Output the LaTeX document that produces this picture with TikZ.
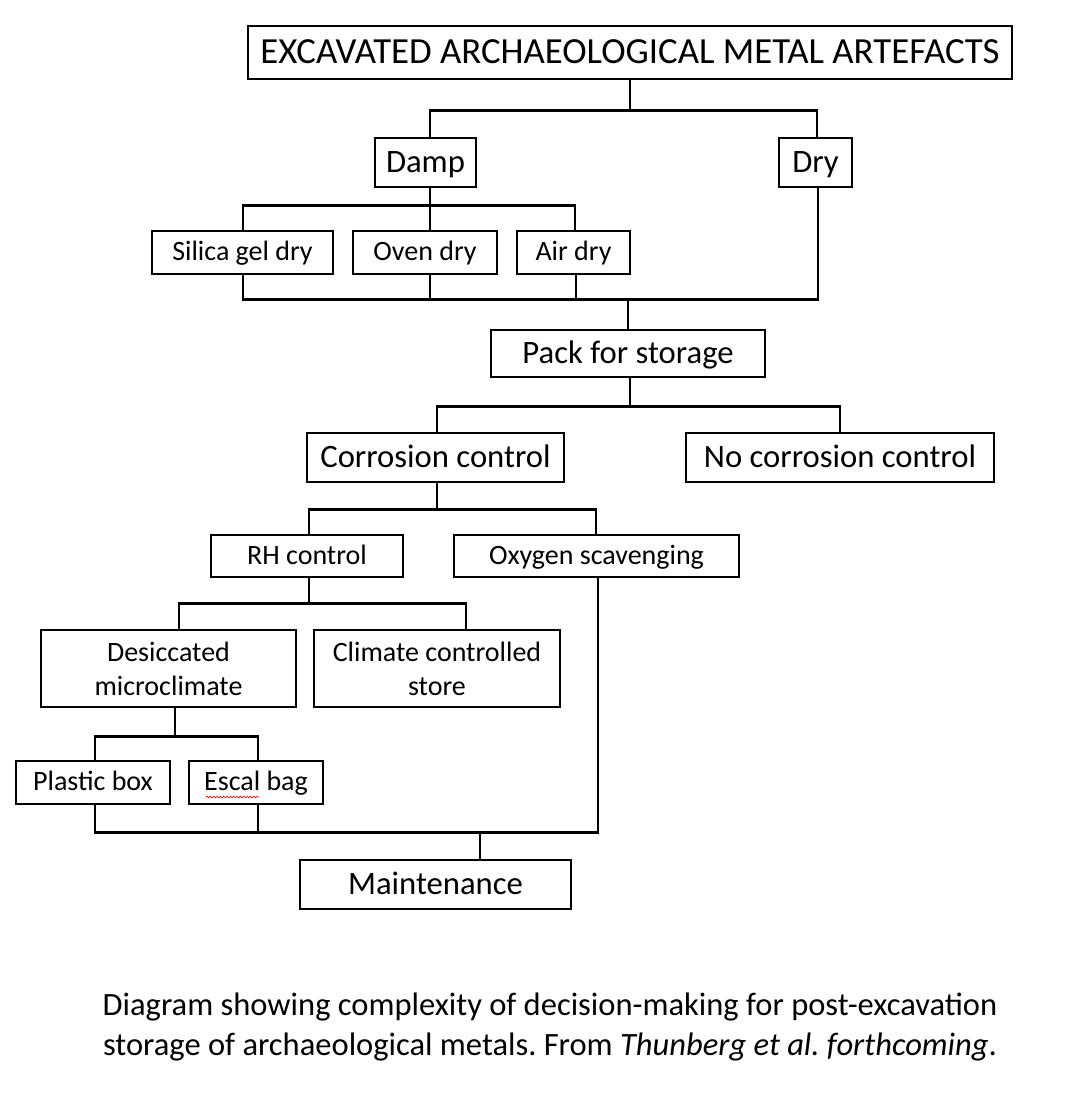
\documentclass[tikz,border=0pt]{standalone}
\usepackage{fontspec}
\setmainfont{Carlito}
\usetikzlibrary{calc,decorations.pathmorphing}
\frenchspacing

\begin{document}
\begin{tikzpicture}[x=0.75pt, y=-0.75pt,
    box/.style={draw, line width=0.8pt, inner sep=0pt},
    bigbox/.style={box, font=\fontsize{24.5}{29}\selectfont, text height=19.6pt, text depth=4.9pt},
    smallbox/.style={box, font=\fontsize{21}{25.5}\selectfont, text height=16.8pt, text depth=4.2pt},
    twoline/.style={box, align=center, font=\fontsize{21}{25.5}\selectfont},
    link/.style={line width=2.2pt}]
    \useasboundingbox (0,0) rectangle (1080,1095);

    % Boxes
    \node[box, font=\fontsize{27.6}{33}\selectfont, text height=22.1pt, text depth=5.5pt, minimum width=764*0.75pt, minimum height=53*0.75pt] (title) at (630,52.5) {EXCAVATED ARCHAEOLOGICAL METAL ARTEFACTS};
    \node[bigbox, minimum width=101*0.75pt, minimum height=49*0.75pt] (damp) at (425.5,162.5) {Damp};
    \node[bigbox, minimum width=73*0.75pt, minimum height=49*0.75pt] (dry) at (815.5,162.5) {Dry};
    \node[smallbox, minimum width=181*0.75pt, minimum height=43*0.75pt] (silica) at (242.5,252.5) {Silica gel dry};
    \node[smallbox, minimum width=144*0.75pt, minimum height=43*0.75pt] (oven) at (425,252.5) {Oven dry};
    \node[smallbox, minimum width=113*0.75pt, minimum height=43*0.75pt] (air) at (573.5,252.5) {Air dry};
    \node[bigbox, minimum width=274*0.75pt, minimum height=47*0.75pt] (pack) at (628,353.5) {Pack for storage};
    \node[bigbox, minimum width=257*0.75pt, minimum height=49*0.75pt] (corr) at (435.5,457.5) {Corrosion control};
    \node[bigbox, minimum width=308*0.75pt, minimum height=49*0.75pt] (nocorr) at (840,457.5) {No corrosion control};
    \node[smallbox, minimum width=192*0.75pt, minimum height=42*0.75pt] (rh) at (307,556) {RH control};
    \node[smallbox, minimum width=285*0.75pt, minimum height=42*0.75pt] (oxy) at (596.5,556) {Oxygen scavenging};
    \node[twoline, minimum width=255*0.75pt, minimum height=77*0.75pt] (desic) at (168.5,668.5) {Desiccated\\microclimate};
    \node[twoline, minimum width=246*0.75pt, minimum height=77*0.75pt] (climate) at (437,668.5) {Climate controlled\\store};
    \node[smallbox, minimum width=154*0.75pt, minimum height=43*0.75pt] (plastic) at (93,782.5) {Plastic box};
    \node[smallbox, minimum width=134*0.75pt, minimum height=43*0.75pt] (escal) at (256,782.5) {Escal bag};
    \node[bigbox, minimum width=271*0.75pt, minimum height=49*0.75pt] (maint) at (435.5,884.5) {Maintenance};

    % Spell-check mark under Escal
    \draw[red, line width=0.5pt, decorate, decoration={snake, amplitude=0.6pt, segment length=2.5pt}] (206,797) -- (259,797);

    % Connectors
    \draw[link] (title.south) -- ++(0,31) coordinate (t1);
    \draw[link] ($(damp.north)+(4.5,0)$) |- (t1) -| ($(dry.north)+(1.5,0)$);

    \draw[link] ($(damp.south)+(4.5,0)$) -- ++(0,18) coordinate (d1);
    \draw[link] ($(silica.north)+(0.5,0)$) |- (d1) -| ($(air.north)+(1.5,0)$);
    \draw[link] ($(oven.north)+(5,0)$) |- (d1);

    \draw[link] ($(silica.south)+(0.5,0)$) -- ++(0,25) coordinate (s1) -| ($(dry.south)+(2.5,0)$);
    \draw[link] ($(oven.south)+(5,0)$) |- (s1);
    \draw[link] ($(air.south)+(2.5,0)$) |- (s1);
    \draw[link] (pack.north) -- ++(0,-31);

    \draw[link] ($(pack.south)+(2,0)$) -- ++(0,29) coordinate (p1);
    \draw[link] ($(corr.north)+(1.5,0)$) |- (p1) -| (nocorr.north);

    \draw[link] ($(corr.south)+(1.5,0)$) -- ++(0,27) coordinate (c1);
    \draw[link] ($(rh.north)+(2,0)$) |- (c1) -| ($(oxy.north)+(-0.5,0)$);

    \draw[link] ($(rh.south)+(2,0)$) -- ++(0,26) coordinate (r1);
    \draw[link] ($(desic.north)+(10.5,0)$) |- (r1) -| ($(climate.north)+(29,0)$);

    \draw[link] ($(desic.south)+(6.5,0)$) -- ++(0,29) coordinate (m1);
    \draw[link] ($(plastic.north)+(2,0)$) |- (m1) -| ($(escal.north)+(2,0)$);

    \draw[link] ($(plastic.south)+(2,0)$) -- ++(0,28) coordinate (e1) -| ($(oxy.south)+(1.5,0)$);
    \draw[link] ($(escal.south)+(2,0)$) |- (e1);
    \draw[link] ($(maint.north)+(44.5,0)$) -- ++(0,-28);

    % Caption
    \node[align=center, font=\fontsize{24.4}{30}\selectfont] (caption) at (550,1027)
        {Diagram showing complexity of decision-making for post-excavation\\
         storage of archaeological metals. From \textit{Thunberg et al. forthcoming}.};
\end{tikzpicture}
\end{document}
